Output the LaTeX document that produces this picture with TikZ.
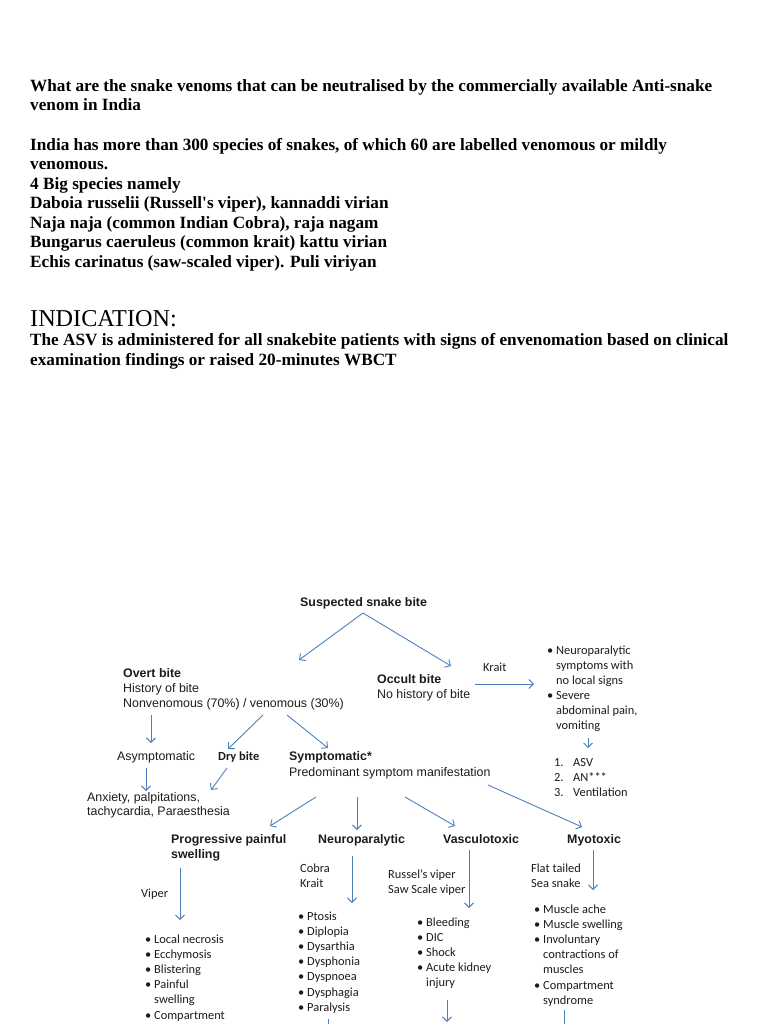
\documentclass[tikz,border=0pt]{standalone}
\usepackage{fontspec}
\setmainfont{Liberation Serif}
\newfontfamily\arialfam{Liberation Sans}
\newfontfamily\califam{Carlito}
\usetikzlibrary{arrows.meta}
\definecolor{arrowblue}{RGB}{79,129,189}
\definecolor{fctext}{RGB}{28,28,28}
\newcommand\mlines[2][15]{\vtop{\baselineskip=#1pt\halign{##\hfil\cr #2\crcr}}}
\newcommand\bodyfnt{\bfseries\fontsize{17.2}{19.5}\selectfont}
\newcommand\arialfnt{\arialfam\fontsize{12.4}{15}\selectfont}
\newcommand\califnt{\califam\fontsize{12.4}{15.2}\selectfont}
\newcommand\bulit{\makebox[9pt][l]{•}}
\newcommand\bulgap{\makebox[9pt][l]{}}
\newcommand\numit[1]{\makebox[19pt][l]{#1}}
\tikzset{
  arr/.style={draw=arrowblue, line width=0.9pt, -{Straight Barb[length=4.5pt,width=9pt]}},
  plainln/.style={draw=arrowblue, line width=0.9pt},
  body/.style={anchor=base west, inner sep=0pt, font=\bodyfnt, text=black},
  fa/.style={anchor=base west, inner sep=0pt, font=\arialfnt, text=fctext},
  fc/.style={anchor=base west, inner sep=0pt, font=\califnt, text=fctext},
}
\begin{document}
\begin{tikzpicture}[x=1pt,y=-1pt]
\fill[white] (0,0) rectangle (768,1024);
\useasboundingbox (0,0) rectangle (768,1024);

% ---------- top text ----------
\node[body] (q) at (30,91.5) {\mlines[19.5]{What are the snake venoms that can be neutralised by the commercially available Anti-snake\cr venom in India}};
\node[body] (info) at (30,150.5) {\mlines[19.5]{India has more than 300 species of snakes, of which 60 are labelled venomous or mildly\cr venomous.\cr 4 Big species namely\cr Daboia russelii (Russell\textquotesingle s viper), kannaddi virian\cr Naja naja (common Indian Cobra), raja nagam\cr Bungarus caeruleus (common krait) kattu virian\cr Echis carinatus (saw-scaled viper). Puli viriyan}};
\node[anchor=base west, inner sep=0pt, font=\fontsize{24.2}{28}\selectfont] (ind) at (30,326) {INDICATION:};
\node[body] (asv) at (30,345.5) {\mlines[19.5]{The ASV is administered for all snakebite patients with signs of envenomation based on clinical\cr examination findings or raised 20-minutes WBCT}};

% ---------- flowchart text ----------
\node[fa] (susp) at (300,606) {\bfseries Suspected snake bite};
\node[fa] (overt) at (123,677) {\mlines{\bfseries Overt bite\cr History of bite\cr Nonvenomous (70\%) / venomous (30\%)}};
\node[fa] (occult) at (377,683) {\mlines{\bfseries Occult bite\cr No history of bite}};
\node[fc] (krait) at (483,671) {Krait};
\node[fc] (neurosig) at (547,654) {\mlines{\bulit Neuroparalytic\cr \bulgap symptoms with\cr \bulgap no local signs\cr \bulit Severe\cr \bulgap abdominal pain,\cr \bulgap vomiting}};
\node[fc] (treat) at (554,766) {\mlines{\numit{1.}ASV\cr \numit{2.}AN***\cr \numit{3.}Ventilation}};
\node[fa] (asym) at (117,760) {Asymptomatic};
\node[fc] (dry) at (218,760) {\bfseries Dry bite};
\node[fa] (sympt) at (289,760) {\mlines[16]{\bfseries Symptomatic*\cr Predominant symptom manifestation}};
\node[fa] (anx) at (87,801) {\mlines[14.5]{Anxiety, palpitations,\cr tachycardia, Paraesthesia}};
\node[fa] (prog) at (171,843) {\mlines{\bfseries Progressive painful\cr \bfseries swelling}};
\node[fa] (neuro) at (318,843) {\bfseries Neuroparalytic};
\node[fa] (vasc) at (443,843) {\bfseries Vasculotoxic};
\node[fa] (myo) at (567,843) {\bfseries Myotoxic};
\node[fc] (viper) at (141,897) {Viper};
\node[fc] (locsym) at (145,943) {\mlines[15.2]{\bulit Local necrosis\cr \bulit Ecchymosis\cr \bulit Blistering\cr \bulit Painful\cr \bulgap swelling\cr \bulit Compartment}};
\node[fc] (cobra) at (300,872) {\mlines{Cobra\cr Krait}};
\node[fc] (neusym) at (298,920) {\mlines[15.2]{\bulit Ptosis\cr \bulit Diplopia\cr \bulit Dysarthia\cr \bulit Dysphonia\cr \bulit Dyspnoea\cr \bulit Dysphagia\cr \bulit Paralysis}};
\node[fc] (russ) at (388,878) {\mlines{Russel’s viper\cr Saw Scale viper}};
\node[fc] (vassym) at (417,926) {\mlines{\bulit Bleeding\cr \bulit DIC\cr \bulit Shock\cr \bulit Acute kidney\cr \bulgap injury}};
\node[fc] (flat) at (531,872) {\mlines{Flat tailed\cr Sea snake}};
\node[fc] (myosym) at (534,913) {\mlines[15.2]{\bulit Muscle ache\cr \bulit Muscle swelling\cr \bulit Involuntary\cr \bulgap contractions of\cr \bulgap muscles\cr \bulit Compartment\cr \bulgap syndrome}};

% ---------- connector end points ----------
\coordinate (suspS) at (363,613);
\coordinate (overtN) at (299,660);
\coordinate (occultN) at (451,666);
\coordinate (occultE) at (475,684);
\coordinate (neurosigW) at (534,684);
\coordinate (neurosigS) at (588,738);
\coordinate (treatN) at (588,748);
\coordinate (overtS1) at (151,715);
\coordinate (asymN) at (151,743);
\coordinate (asymS) at (146,768);
\coordinate (anxN1) at (146,791);
\coordinate (overtS2) at (263,715);
\coordinate (dryN) at (228,749);
\coordinate (dryS) at (227,768);
\coordinate (anxN2) at (211,790);
\coordinate (overtS3) at (287,715);
\coordinate (symptN) at (328,748);
\coordinate (symptS1) at (316,797);
\coordinate (progN) at (270,826);
\coordinate (symptS2) at (357,797);
\coordinate (neuroN) at (357,830);
\coordinate (symptS3) at (405,797);
\coordinate (vascN) at (455,826);
\coordinate (symptE) at (488,785);
\coordinate (myoN) at (582,827);
\coordinate (progS) at (180,868);
\coordinate (locN) at (180,920);
\coordinate (neuroS) at (352,856);
\coordinate (neusymN) at (352,903);
\coordinate (vascS) at (469,850);
\coordinate (vassymN) at (469,908);
\coordinate (myoS) at (593,850);
\coordinate (myosymN) at (593,890);
\coordinate (vassymS) at (447,1000);
\coordinate (vasOut) at (447,1022);
\coordinate (myosymS) at (564,1010);
\coordinate (myoOut) at (564,1026);
\coordinate (neusymS) at (328,1019);
\coordinate (neuOut) at (328,1026);

% ---------- connectors ----------
\draw[arr] (suspS) -- (overtN);
\draw[arr] (suspS) -- (occultN);
\draw[arr] (occultE) -- (neurosigW);
\draw[arr] (neurosigS) -- (treatN);
\draw[arr] (overtS1) -- (asymN);
\draw[arr] (asymS) -- (anxN1);
\draw[arr] (overtS2) -- (dryN);
\draw[arr] (dryS) -- (anxN2);
\draw[arr] (overtS3) -- (symptN);
\draw[arr] (symptS1) -- (progN);
\draw[arr] (symptS2) -- (neuroN);
\draw[arr] (symptS3) -- (vascN);
\draw[arr] (symptE) -- (myoN);
\draw[arr] (progS) -- (locN);
\draw[arr] (neuroS) -- (neusymN);
\draw[arr] (vascS) -- (vassymN);
\draw[arr] (myoS) -- (myosymN);
\draw[arr] (vassymS) -- (vasOut);
\draw[plainln] (myosymS) -- (myoOut);
\draw[plainln] (neusymS) -- (neuOut);
\end{tikzpicture}
\end{document}
